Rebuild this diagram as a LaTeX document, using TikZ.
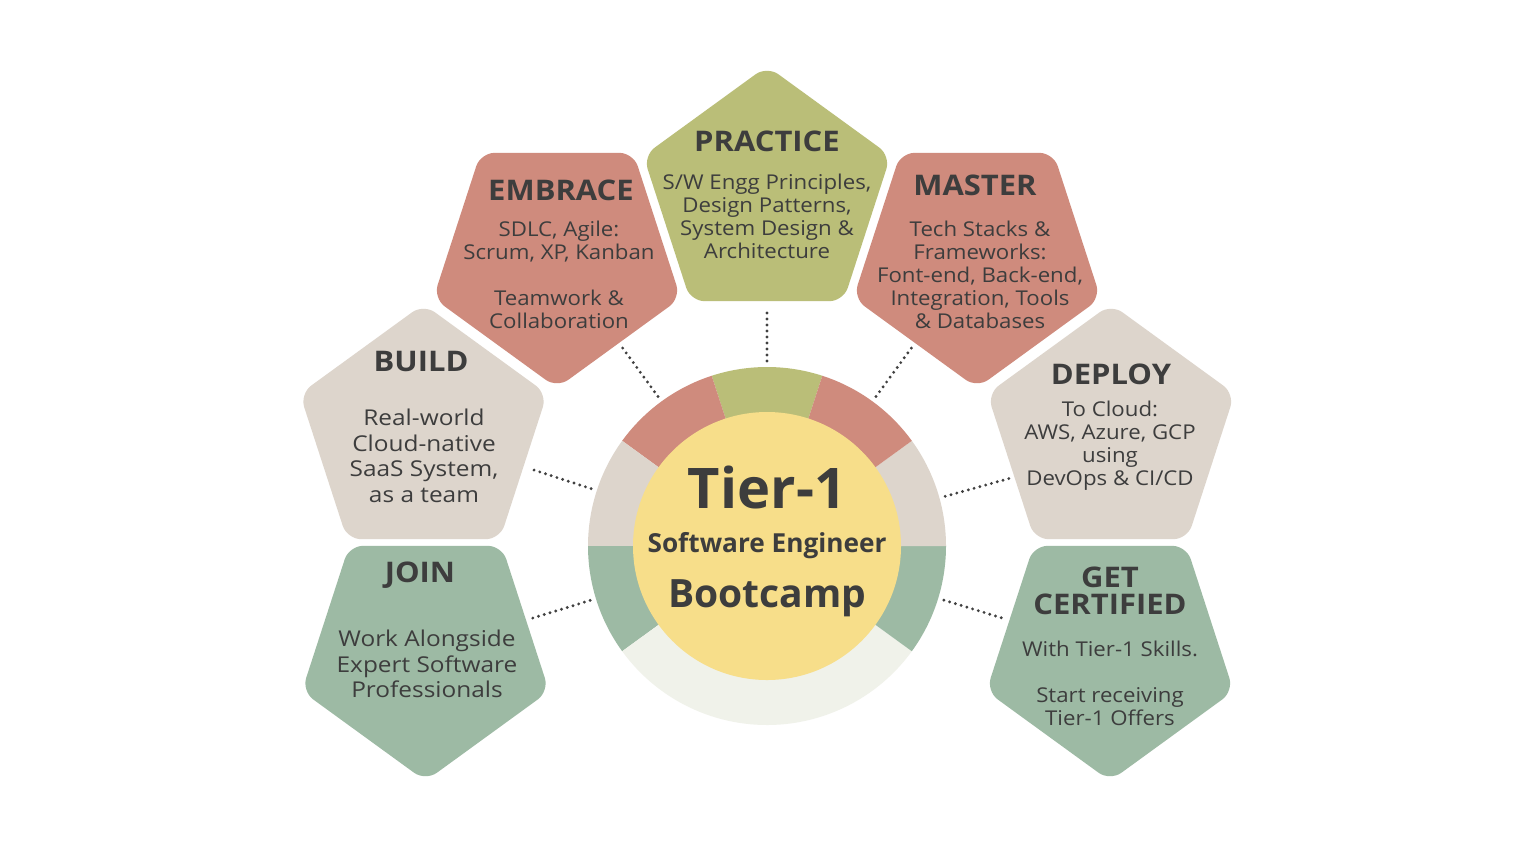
\documentclass[tikz,border=0pt]{standalone}
\usepackage{fontspec}
\setmainfont{Open Sans}
\newfontfamily\widefont{Open Sans}[FakeStretch=1.09]
\newfontfamily\widerfont{Open Sans}[FakeStretch=1.12]
\usetikzlibrary{shapes.geometric,calc}
\definecolor{cSalmon}{HTML}{CF8B7D}
\definecolor{cOlive}{HTML}{BABE78}
\definecolor{cBeige}{HTML}{DDD5CC}
\definecolor{cGreen}{HTML}{9DBAA4}
\definecolor{cLight}{HTML}{F0F2EA}
\definecolor{cYellow}{HTML}{F7DE8A}
\definecolor{cText}{HTML}{3D3D3D}
\definecolor{cDot}{HTML}{404040}
\tikzset{
  penta/.style={regular polygon, regular polygon sides=5, minimum size=130pt,
    inner sep=0pt, outer sep=0pt, rounded corners=7pt, fill=#1},
  pentadown/.style={penta=#1, shape border rotate=180},
  headtxt/.style={text=cText, font=\widefont\fontsize{14.2}{16}\selectfont\bfseries, align=center, inner sep=0pt},
  bodytxt/.style={text=cText, font=\widefont\fontsize{10.2}{11.5}\selectfont, align=center, inner sep=0pt},
  bodybig/.style={text=cText, font=\widerfont\fontsize{10.9}{12.8}\selectfont, align=center, inner sep=0pt},
  conn/.style={draw=cDot, line width=1.6pt, line cap=round, dash pattern=on 0pt off 3pt,
    shorten <=3pt, shorten >=3pt},
}
\begin{document}
\begin{tikzpicture}[x=0.5pt,y=-0.5pt]
\useasboundingbox[fill=white] (0,0) rectangle (1536,864);

% ring
\node[circle, minimum size=179pt, inner sep=0pt, outer sep=0pt] (ring) at (767,546) {};
\foreach \c/\a/\b in {cOlive/72/108, cSalmon/108/144, cBeige/144/180, cGreen/180/216,
  cLight/216/324, cGreen/324/360, cBeige/0/36, cSalmon/36/72}{
  \fill[\c] (ring.center) -- ($(ring.center)+(-\a:179)$) arc[start angle=-\a, end angle=-\b, radius=179] -- cycle;
}
\node[circle, minimum size=134pt, inner sep=0pt, outer sep=0pt, fill=cYellow] (core) at (767,546) {};

% pentagons
\node[penta=cOlive] (practice) at (767,196) {};
\node[pentadown=cSalmon] (embrace) at (557,258) {};
\node[pentadown=cSalmon] (master) at (977,258) {};
\node[penta=cBeige] (build) at (423.5,434) {};
\node[penta=cBeige] (deploy) at (1111,434) {};
\node[pentadown=cGreen] (join) at (425.5,651) {};
\node[pentadown=cGreen] (getcert) at (1110,651) {};

% connectors
\coordinate (deployend) at (1018,476);
\draw[conn] (ring) -- (practice);
\draw[conn] (ring) -- (embrace);
\draw[conn] (ring) -- (master);
\draw[conn] (ring) -- (build);
\draw[conn] (ring) -- (deployend);
\draw[conn] (ring) -- (join);
\draw[conn] (ring) -- (getcert);

% central text
\node[anchor=base, text=cText, font=\fontsize{28}{30}\selectfont\bfseries, inner sep=0pt] (t1) at (767,508) {Tier-1};
\node[anchor=base, text=cText, font=\fontsize{13.1}{14}\selectfont\bfseries, inner sep=0pt] (t2) at (767,552) {Software Engineer};
\node[anchor=base, text=cText, font=\fontsize{19.5}{22}\selectfont\bfseries, inner sep=0pt] (t3) at (767,607) {Bootcamp};

% texts
\node[headtxt] (h1) at (767,141) {PRACTICE};
\node[bodytxt] (b1) at (767,216) {S/W Engg Principles,\\Design Patterns,\\System Design \&\\Architecture};

\node[headtxt] (h2) at (561,190) {EMBRACE};
\node[bodytxt] (b2) at (559,275) {SDLC, Agile:\\Scrum, XP, Kanban\\[11.5pt]Teamwork \&\\Collaboration};

\node[headtxt] (h3) at (975,185) {MASTER};
\node[bodytxt] (b3) at (980,275) {Tech Stacks \&\\Frameworks:\\Font-end, Back-end,\\Integration, Tools\\\& Databases};

\node[headtxt] (h4) at (421,361) {BUILD};
\node[bodybig] (b4) at (424,456) {Real-world\\Cloud-native\\SaaS System,\\as a team};

\node[headtxt] (h5) at (1111,374) {DEPLOY};
\node[bodytxt] (b5) at (1110,446) {To Cloud:\\AWS, Azure, GCP\\using\\DevOps \& CI/CD};

\node[headtxt] (h6) at (420,575) {JOIN};
\node[bodybig] (b6) at (427,664) {Work Alongside\\Expert Software\\Professionals};

\node[headtxt, font=\widefont\fontsize{14.2}{13.5}\selectfont\bfseries] (h7) at (1110,591) {GET\\CERTIFIED};
\node[bodytxt] (b7) at (1110,683) {With Tier-1 Skills.\\[11.5pt]Start receiving\\Tier-1 Offers};
\end{tikzpicture}
\end{document}
